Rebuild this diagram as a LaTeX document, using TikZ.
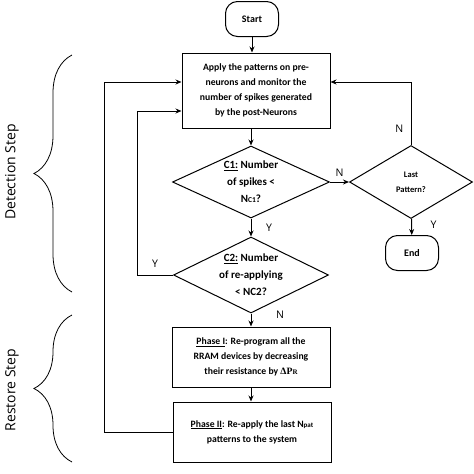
\documentclass[tikz,border=0pt]{standalone}
\usepackage{fontspec}
\setmainfont{Carlito}
\newfontfamily\sidefont{Open Sans}
\newfontfamily\serifgreek{Liberation Serif}
\usetikzlibrary{shapes.geometric,decorations.pathreplacing,arrows.meta}

\tikzset{
	process/.style={draw,line width=1pt,minimum width=158pt,minimum height=60pt,inner sep=0pt,align=center,font=\bfseries\fontsize{9.7}{15}\selectfont},
	decision/.style={draw,line width=1pt,diamond,aspect=2,inner sep=0pt,align=center,font=\bfseries\fontsize{11}{17}\selectfont},
	terminal/.style={draw,line width=1pt,rounded corners=12pt,minimum width=53pt,minimum height=35pt,font=\bfseries\fontsize{10}{12}\selectfont},
	flow/.style={line width=1pt,-{Stealth[length=6pt,width=5pt]}},
	answer/.style={font=\sidefont\fontsize{10.5}{12}\selectfont},
	steplabel/.style={font=\sidefont\fontsize{14}{16}\selectfont,rotate=90},
}

\begin{document}
\begin{tikzpicture}[x=1pt,y=-1pt]
	\useasboundingbox (0,0) rectangle (474,474);
	\node[terminal] (start) at (252,19) {Start};
	\node[process,minimum width=148pt,minimum height=75pt] (apply) at (256,90.5) {Apply the patterns on pre-\\neurons and monitor the\\number of spikes generated\\by the post-Neurons};
	\node[decision,minimum width=157pt,minimum height=72pt] (c1) at (251,182) {\underline{C1:} Number\\of spikes <\\N{\fontsize{7.5}{7.5}\selectfont C1}?};
	\node[decision,minimum width=155pt,minimum height=76pt] (c2) at (251,275) {\underline{C2:} Number\\of re-applying\\< NC2?};
	\node[decision,minimum width=123pt,minimum height=73pt,font=\bfseries\fontsize{8.5}{15}\selectfont] (last) at (411,182) {Last\\Pattern?};
	\node[terminal] (end) at (412,253) {End};
	\node[process] (phase1) at (251,357) {\underline{Phase I}: Re-program all the\\RRAM devices by decreasing\\their resistance by {\serifgreek ΔP\fontsize{7}{7}\selectfont R}};
	\node[process] (phase2) at (252,432) {\underline{Phase II}: Re-apply the last N{\fontsize{7}{7}\selectfont pat}\\patterns to the system};
	% main flow
	\draw[flow] (start) -- (start |- apply.north);
	\draw[flow] (c1.north |- apply.south) -- (c1.north);
	\draw[flow] (c1) -- (c2) node[answer,midway,xshift=18pt] {Y};
	\draw[flow] (c2) -- (phase1) node[answer,midway,xshift=29pt,yshift=5pt] {N};
	\draw[flow] (phase1) -- (phase1 |- phase2.north);
	\draw[flow] (c1) -- (last) node[answer,midway,above,yshift=2pt] {N};
	\draw[flow] (last) -- (end) node[answer,midway,xshift=22pt,yshift=2pt] {Y};
	% loops back
	\draw[flow] (last) |- ([yshift=8.5pt]apply.east) node[answer,pos=0.13,left=4pt] {N};
	\draw[flow] (c2.west) -- ++(-36,0) node[answer,midway,above,yshift=4pt] {Y} |- ([yshift=-20.5pt]apply.west);
	\draw[flow] (phase2.west) -- ++(-68,0) |- ([yshift=8.5pt]apply.west);
	% steps
	\draw[line width=0.8pt,decorate,decoration={brace,amplitude=38pt}] (72,292) -- (72,55);
	\draw[line width=0.8pt,decorate,decoration={brace,amplitude=38pt}] (72,462) -- (72,315);
	\node[steplabel] (detection) at (12,172) {Detection Step};
	\node[steplabel] (restore) at (12,390) {Restore Step};
\end{tikzpicture}
\end{document}
